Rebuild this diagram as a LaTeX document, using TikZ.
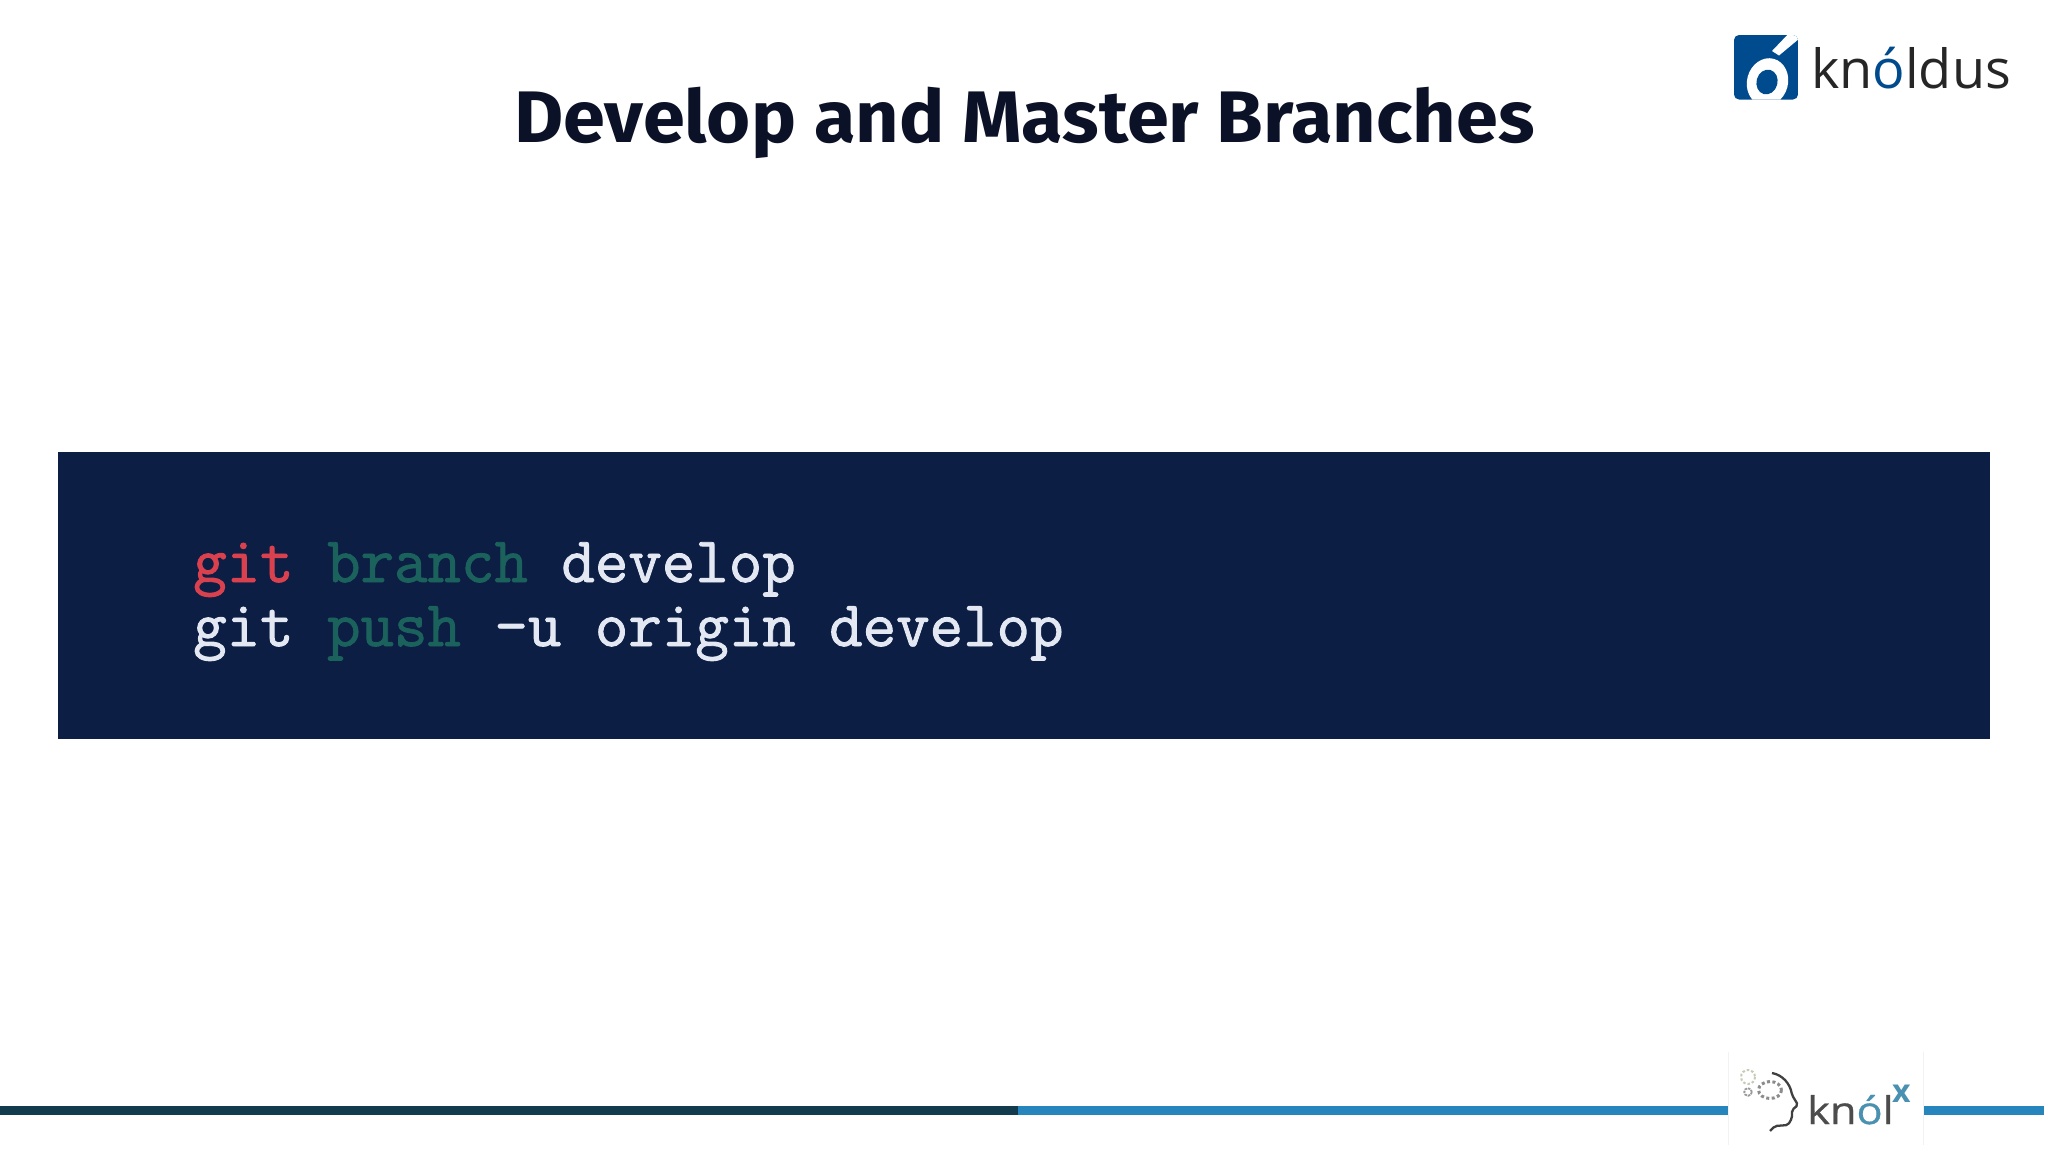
\documentclass[tikz,border=0pt]{standalone}
\usepackage{fontspec}
\setmainfont[FakeStretch=1.036]{Fira Sans}
\setmonofont[FakeBold=1.4]{Latin Modern Mono}
\newfontfamily\logofont{Open Sans}
\newfontfamily\knolfont[FakeStretch=1.14,FakeBold=0.8]{Open Sans}
\usetikzlibrary{positioning}
\definecolor{codebg}{HTML}{0C1E44}
\definecolor{codered}{HTML}{D9414F}
\definecolor{codegreen}{HTML}{1B615C}
\definecolor{codewhite}{HTML}{E3E8F3}
\definecolor{titleink}{HTML}{0B1126}
\definecolor{logoblue}{HTML}{004B8D}
\definecolor{barDark}{HTML}{123B4D}
\definecolor{barBlue}{HTML}{2585BC}
\definecolor{knolblue}{HTML}{4A90B0}
\definecolor{gearTan}{HTML}{C9C9B8}
\tikzstyle{title}=[inner sep=0pt, anchor=base, titleink, font=\fontsize{73}{84}\selectfont\bfseries]
\tikzstyle{code}=[inner sep=0pt, anchor=base west, codewhite, font=\ttfamily\fontsize{65}{76}\selectfont]
\tikzstyle{logo text}=[inner sep=0pt, anchor=base west, font=\logofont\fontsize{54}{64}\selectfont]
\tikzstyle{knol text}=[inner sep=0pt, anchor=base west, font=\knolfont\fontsize{38}{44}\selectfont]
\tikzstyle{bar}=[line width=9pt]

\begin{document}
\begin{tikzpicture}[x=1pt,y=-1pt]
    \useasboundingbox[fill=white] (0,0) rectangle (2048,1152);

    % Title
    \draw (1024.5,142) node[title] (heading) {Develop and Master Branches};

    % Code panel
    \fill[codebg] (57.5,452) rectangle (1990,739);
    \draw (193,582) node[code] (lineone) {\textcolor{codered}{git} \textcolor{codegreen}{branch} develop};
    \draw (193,646) node[code] (linetwo) {git \textcolor{codegreen}{push} -u origin develop};

    % Knoldus logo
    \begin{scope}
      \clip[rounded corners=5pt] (1734,35) rectangle (1798,99.5);
      \fill[logoblue] (1734,35) rectangle (1798,99.5);
      \fill[white,rotate around={-15:(1767.5,82)}] (1767.5,82) ellipse (20.5 and 24);
      \fill[logoblue,rotate around={-15:(1767,82)}] (1767,82) ellipse (10.5 and 12.5);
      \fill[white] (1772,51) -- (1779,55.5) -- (1800,38) -- (1800,30) -- (1792,30) -- cycle;
    \end{scope}
    \draw (1811,88) node[logo text, black!85] (knoldus) {kn\textcolor{logoblue}{ó}ldus};

    % Bottom bars
    \draw[bar,barDark] (0,1110.5) -- (1018,1110.5);
    \draw[bar,barBlue] (1018,1110.5) -- (1728,1110.5);
    \draw[bar,barBlue] (1923,1110.5) -- (2044,1110.5);

    % Knolx logo
    \draw[black!5] (1728,1052) -- (1728,1145);
    \draw[black!5] (1923,1052) -- (1923,1145);
    \draw[line width=2.3pt,black!75,rounded corners=2pt]
    (1772,1073) .. controls (1783,1075) and (1790,1084) .. (1792,1095)
    -- (1798,1105) -- (1792,1110) -- (1792,1118) -- (1788,1125) -- (1775,1126) -- (1770,1131);
    \draw[line width=3pt,black!45,dash pattern=on 3pt off 2.5pt] (1770,1090) ellipse (11.5 and 8.5);
    \draw[line width=1.8pt,black!40,dash pattern=on 2.5pt off 1pt] (1748,1092) circle (3.8);
    \draw[line width=2pt,gearTan,dash pattern=on 2.5pt off 2pt] (1748,1077) circle (7);
    \draw (1807,1124) node[knol text, black!70] (knol) {kn\textcolor{knolblue}{ó}l};
    \draw (1892,1102) node[inner sep=0pt, anchor=base west, knolblue, font=\logofont\fontsize{32}{36}\selectfont\bfseries] (knolx) {x};
\end{tikzpicture}
\end{document}
